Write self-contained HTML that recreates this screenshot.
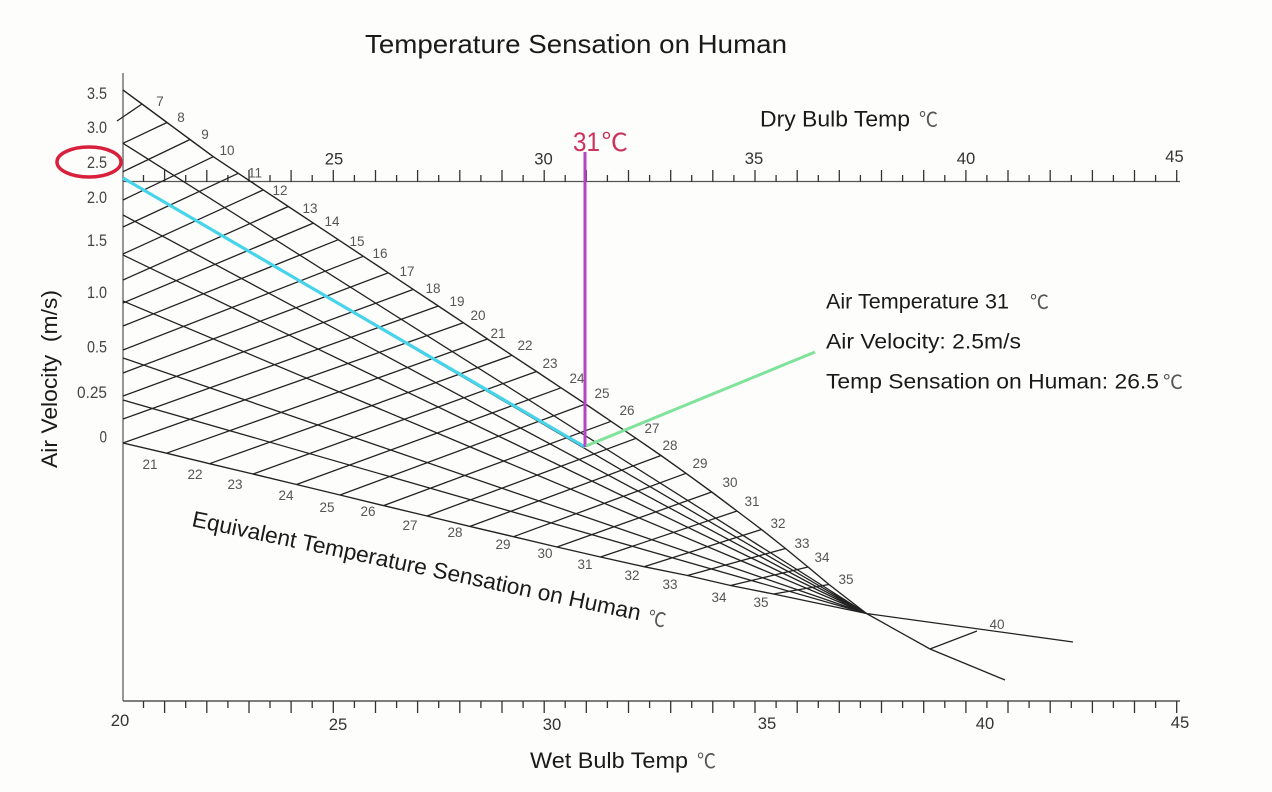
<!DOCTYPE html>
<html><head><meta charset="utf-8"><style>
html,body{margin:0;padding:0;background:#fdfdfc;}
svg{display:block;}
text{font-family:"Liberation Sans",Arial,sans-serif;}
.cj{font-family:"Noto Sans CJK SC","DejaVu Sans",sans-serif;}
.g{font-size:13.5px;fill:#555;text-anchor:middle;}
.ax{font-size:16.5px;fill:#333;}
</style></head><body>
<svg width="1272" height="792" viewBox="0 0 1272 792" xmlns="http://www.w3.org/2000/svg">
<rect width="1272" height="792" fill="#fdfdfc"/>

<!-- Title -->
<text x="365" y="53" font-size="26" fill="#1a1a1a" textLength="422" lengthAdjust="spacingAndGlyphs">Temperature Sensation on Human</text>

<!-- Dry bulb title -->
<text x="760" y="126.5" font-size="22.5" fill="#1a1a1a" textLength="150" lengthAdjust="spacingAndGlyphs">Dry Bulb Temp</text>
<text x="919" y="126.5" font-size="20" fill="#555" class="cj" textLength="19" lengthAdjust="spacingAndGlyphs">℃</text>

<!-- Axes -->
<path d="M123 73V701" stroke="#777" stroke-width="1.5" fill="none"/>
<path d="M123 181.5H1180" stroke="#555" stroke-width="1.3" fill="none"/>
<path d="M123 701H1180" stroke="#555" stroke-width="1.5" fill="none"/>

<!-- Top ticks -->
<path stroke="#333" stroke-width="1.3" fill="none" d="
M143.5 182v-7 M185.7 182v-7 M227.9 182v-7 M270 182v-7 M312.2 182v-7 M354.4 182v-7 M396.6 182v-7 M438.7 182v-7 M480.9 182v-7 M523.1 182v-7 M565.2 182v-7 M607.4 182v-7 M649.6 182v-7 M691.7 182v-7 M733.9 182v-7 M776.1 182v-7 M818.3 182v-7 M860.4 182v-7 M902.6 182v-7 M944.8 182v-7 M986.9 182v-7 M1029.1 182v-7 M1071.3 182v-7 M1113.4 182v-7 M1155.6 182v-7
M164.6 182v-12 M206.8 182v-12 M249 182v-12 M291.1 182v-12 M333.3 182v-12 M375.5 182v-12 M417.6 182v-12 M459.8 182v-12 M502 182v-12 M544.2 182v-12 M586.3 182v-12 M628.5 182v-12 M670.7 182v-12 M712.8 182v-12 M755 182v-12 M797.2 182v-12 M839.3 182v-12 M881.5 182v-12 M923.7 182v-12 M965.9 182v-12 M1008 182v-12 M1050.2 182v-12 M1092.4 182v-12 M1134.5 182v-12 M1176.7 182v-12"/>

<!-- Bottom ticks -->
<path stroke="#333" stroke-width="1.3" fill="none" d="
M143.5 701v7 M185.7 701v7 M227.9 701v7 M270 701v7 M312.2 701v7 M354.4 701v7 M396.6 701v7 M438.7 701v7 M480.9 701v7 M523.1 701v7 M565.2 701v7 M607.4 701v7 M649.6 701v7 M691.7 701v7 M733.9 701v7 M776.1 701v7 M818.3 701v7 M860.4 701v7 M902.6 701v7 M944.8 701v7 M986.9 701v7 M1029.1 701v7 M1071.3 701v7 M1113.4 701v7 M1155.6 701v7
M164.6 701v12 M206.8 701v12 M249 701v12 M291.1 701v12 M333.3 701v12 M375.5 701v12 M417.6 701v12 M459.8 701v12 M502 701v12 M544.2 701v12 M586.3 701v12 M628.5 701v12 M670.7 701v12 M712.8 701v12 M755 701v12 M797.2 701v12 M839.3 701v12 M881.5 701v12 M923.7 701v12 M965.9 701v12 M1008 701v12 M1050.2 701v12 M1092.4 701v12 M1134.5 701v12 M1176.7 701v12"/>

<!-- Top axis labels -->
<text class="ax" x="334" y="164.5" text-anchor="middle" textLength="18.5" lengthAdjust="spacingAndGlyphs">25</text>
<text class="ax" x="543.5" y="164.5" text-anchor="middle" textLength="18.5" lengthAdjust="spacingAndGlyphs">30</text>
<text class="ax" x="754" y="164" text-anchor="middle" textLength="18.5" lengthAdjust="spacingAndGlyphs">35</text>
<text class="ax" x="966" y="164" text-anchor="middle" textLength="18.5" lengthAdjust="spacingAndGlyphs">40</text>
<text class="ax" x="1174.5" y="162" text-anchor="middle" textLength="18.5" lengthAdjust="spacingAndGlyphs">45</text>

<!-- Bottom axis labels -->
<text class="ax" x="120" y="726" text-anchor="middle" textLength="18.5" lengthAdjust="spacingAndGlyphs">20</text>
<text class="ax" x="338" y="730" text-anchor="middle" textLength="18.5" lengthAdjust="spacingAndGlyphs">25</text>
<text class="ax" x="552" y="730" text-anchor="middle" textLength="18.5" lengthAdjust="spacingAndGlyphs">30</text>
<text class="ax" x="767" y="729" text-anchor="middle" textLength="18.5" lengthAdjust="spacingAndGlyphs">35</text>
<text class="ax" x="985" y="729" text-anchor="middle" textLength="18.5" lengthAdjust="spacingAndGlyphs">40</text>
<text class="ax" x="1180" y="728" text-anchor="middle" textLength="18.5" lengthAdjust="spacingAndGlyphs">45</text>

<!-- Wet bulb title -->
<text x="530" y="768" font-size="22.5" fill="#1a1a1a" textLength="158" lengthAdjust="spacingAndGlyphs">Wet Bulb Temp</text>
<text x="697" y="768" font-size="20" fill="#555" class="cj" textLength="19" lengthAdjust="spacingAndGlyphs">℃</text>

<!-- Velocity labels -->
<g font-size="16.5" fill="#444" text-anchor="end">
<text x="107" y="99" textLength="20" lengthAdjust="spacingAndGlyphs">3.5</text>
<text x="107" y="133" textLength="20" lengthAdjust="spacingAndGlyphs">3.0</text>
<text x="107" y="168" textLength="20" lengthAdjust="spacingAndGlyphs">2.5</text>
<text x="107" y="203" textLength="20" lengthAdjust="spacingAndGlyphs">2.0</text>
<text x="107" y="246" textLength="20" lengthAdjust="spacingAndGlyphs">1.5</text>
<text x="107" y="298" textLength="20" lengthAdjust="spacingAndGlyphs">1.0</text>
<text x="107" y="352.5" textLength="20" lengthAdjust="spacingAndGlyphs">0.5</text>
<text x="107" y="398" textLength="30" lengthAdjust="spacingAndGlyphs">0.25</text>
<text x="107" y="442.5" textLength="7.5" lengthAdjust="spacingAndGlyphs">0</text>
</g>

<!-- Y axis title -->
<text transform="translate(57,468) rotate(-90)" font-size="22" fill="#1a1a1a" textLength="178" lengthAdjust="spacingAndGlyphs">Air Velocity&#160; (m/s)</text>

<!-- Red ellipse -->
<ellipse cx="89" cy="162" rx="32" ry="15" fill="none" stroke="#d8203c" stroke-width="3.5"/>

<!-- Grid: ET lines -->
<path stroke="#222" stroke-width="1.3" fill="none" d="
M117 121L142 104
M123 143.3L167 122.5
M123 171.7L190 139.5
M123 200L213.3 156.7
M123 227L238.3 173.3
M123 254L263.3 189.9
M123 280L288.3 206.5
M123 303L313.3 223.1
M123 326L338.3 239.7
M123 350L363.3 256.3
M123 373L388.3 272.8
M123 396L413.3 289.4
M123 419L438.3 306
M123 443L463.3 322.7
M166.5 453.2L487.5 339
M209.5 463.7L512 355.3
M253 474L536.5 371.5
M296.5 484.5L561 387.8
M340 495L585.5 404
M383.5 505.6L611 421.3
M427 516L636 438.3
M470 526.4L661 455.5
M513.5 536.7L686 473.3
M557 547L711.7 492
M600.5 557L737 511
M644 566.7L761.5 529.5
M687.5 575.5L785.5 548.5
M730.5 585.5L808 567
M773.5 594L829 584.5"/>

<!-- Grid: velocity lines -->
<path stroke="#222" stroke-width="1.3" fill="none" d="
M123 143.3L866.5 613.5
M123 178L866.5 613.5
M123 215L866.5 613.5
M123 255L866.5 613.5
M123 301L866.5 613.5
M123 358L866.5 613.5
M123 400L866.5 613.5"/>

<!-- Top boundary (3.5) -->
<path stroke="#222" stroke-width="1.4" fill="none" d="M123 90L142 104L167 122.5L190 139.5L213.3 156.7L238.3 173.3L263.3 189.9L288.3 206.5L313.3 223.1L338.3 239.7L363.3 256.3L388.3 272.8L413.3 289.4L438.3 306L463.3 322.7L487.5 339L512 355.3L536.5 371.5L561 387.8L585.5 404L611 421.3L636 438.3L661 455.5L686 473.3L711.7 492L737 511L761.5 529.5L785.5 548.5L808 567L829 584.5L866.5 613.5"/>
<!-- Bottom boundary (0) -->
<path stroke="#222" stroke-width="1.4" fill="none" d="M123 443L166.5 453.2L209.5 463.7L253 474L296.5 484.5L340 495L383.5 505.6L427 516L470 526.4L513.5 536.7L557 547L600.5 557L644 566.7L687.5 575.5L730.5 585.5L773.5 594L866.5 613.5"/>

<!-- Beyond convergence -->
<path stroke="#222" stroke-width="1.3" fill="none" d="M866.5 613.5L1073 642 M866.5 613.5L930 649L1005 680 M930 649L977 631"/>

<!-- Top ET labels -->
<g class="g">
<text class="g" x="160" y="106">7</text>
<text class="g" x="181" y="122">8</text>
<text class="g" x="205" y="139">9</text>
<text class="g" x="227" y="155">10</text>
<text class="g" x="255" y="177.5">11</text>
<text class="g" x="280" y="195">12</text>
<text class="g" x="310" y="213">13</text>
<text class="g" x="332" y="226">14</text>
<text class="g" x="357" y="246">15</text>
<text class="g" x="380" y="258">16</text>
<text class="g" x="407" y="276">17</text>
<text class="g" x="433" y="293">18</text>
<text class="g" x="457" y="306">19</text>
<text class="g" x="478" y="320">20</text>
<text class="g" x="498" y="338">21</text>
<text class="g" x="525" y="350">22</text>
<text class="g" x="550" y="368">23</text>
<text class="g" x="577" y="383">24</text>
<text class="g" x="602" y="398">25</text>
<text class="g" x="627" y="415">26</text>
<text class="g" x="652" y="433">27</text>
<text class="g" x="670" y="450">28</text>
<text class="g" x="700" y="468">29</text>
<text class="g" x="730" y="487">30</text>
<text class="g" x="752" y="506">31</text>
<text class="g" x="778" y="528">32</text>
<text class="g" x="802" y="548">33</text>
<text class="g" x="822" y="562">34</text>
<text class="g" x="846" y="584">35</text>
</g>

<!-- Bottom ET labels -->
<g>
<text class="g" x="150" y="469">21</text>
<text class="g" x="195" y="479">22</text>
<text class="g" x="235" y="489">23</text>
<text class="g" x="286" y="500">24</text>
<text class="g" x="327" y="512">25</text>
<text class="g" x="368" y="516">26</text>
<text class="g" x="410" y="530">27</text>
<text class="g" x="455" y="537">28</text>
<text class="g" x="503" y="549">29</text>
<text class="g" x="545" y="558">30</text>
<text class="g" x="585" y="569">31</text>
<text class="g" x="632" y="580">32</text>
<text class="g" x="670" y="589">33</text>
<text class="g" x="719" y="602">34</text>
<text class="g" x="761" y="607">35</text>
<text class="g" x="997" y="629">40</text>
</g>

<!-- Equivalent temperature label -->
<g transform="translate(191,526) rotate(11.9)">
<text x="0" y="0" font-size="22.5" fill="#1a1a1a" textLength="458" lengthAdjust="spacingAndGlyphs">Equivalent Temperature Sensation on Human</text>
<text x="466" y="2" font-size="20" fill="#555" class="cj" textLength="18" lengthAdjust="spacingAndGlyphs">℃</text>
</g>

<!-- Highlight lines -->
<path d="M123 178L585 447" stroke="#46d4ea" stroke-width="3.2" fill="none"/>
<path d="M585 152V447" stroke="#b544c4" stroke-width="3" fill="none"/>
<path d="M586 446L815 352" stroke="#80e39b" stroke-width="3" fill="none"/>

<!-- 31℃ -->
<text x="573" y="151" font-size="27" fill="#c9335c" textLength="27" lengthAdjust="spacingAndGlyphs">31</text>
<text x="601.5" y="151" font-size="25" fill="#c9335c" class="cj" textLength="26.5" lengthAdjust="spacingAndGlyphs">℃</text>

<!-- Annotations -->
<text x="826" y="308.5" font-size="21.5" fill="#1a1a1a" textLength="183" lengthAdjust="spacingAndGlyphs">Air Temperature 31</text>
<text x="1030" y="308.5" font-size="19" fill="#555" class="cj" textLength="19" lengthAdjust="spacingAndGlyphs">℃</text>
<text x="826" y="348.5" font-size="21.5" fill="#1a1a1a" textLength="195" lengthAdjust="spacingAndGlyphs">Air Velocity: 2.5m/s</text>
<text x="826" y="388.5" font-size="21.5" fill="#1a1a1a" textLength="333" lengthAdjust="spacingAndGlyphs">Temp Sensation on Human: 26.5</text>
<text x="1163" y="388.5" font-size="19" fill="#555" class="cj" textLength="20" lengthAdjust="spacingAndGlyphs">℃</text>
</svg>
</body></html>
